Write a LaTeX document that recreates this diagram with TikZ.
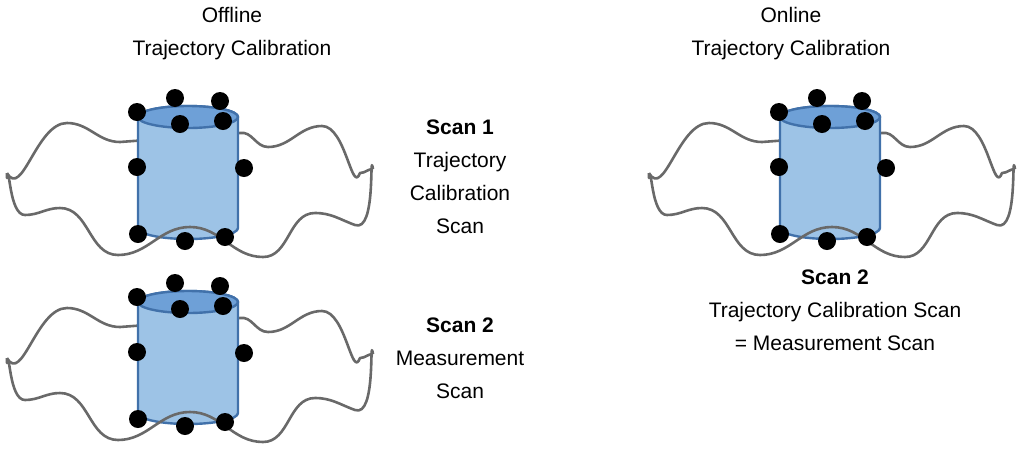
\documentclass[tikz,border=0pt]{standalone}
\usepackage{fontspec}
\setmainfont{Liberation Sans}
\definecolor{cylf}{RGB}{157,195,230}
\definecolor{cyltop}{RGB}{110,160,215}
\definecolor{cyle}{RGB}{65,113,170}
\definecolor{wave}{RGB}{105,105,105}
\begin{document}
\begin{tikzpicture}[x=1pt,y=-1pt,
  wv/.style={draw=wave,line width=2.6pt,line join=round},
  cyl/.style={draw=cyle,line width=2.4pt,fill=cylf},
  dot/.style={circle,fill=black,minimum size=18pt,inner sep=0pt},
  lbl/.style={align=center,font=\fontsize{21}{33}\selectfont}]
\useasboundingbox (0,0) rectangle (1025,448);
\newcommand{\grp}[3]{%
\begin{scope}[shift={(#1,#2)}]
\draw[wv] (7,173) to[out=-60,in=180] (67,123) to[out=0,in=180] (120,142) -- (240,133)
  to[out=10,in=180] (268,147) to[out=0,in=180] (322,126) to[out=0,in=-110] (360,173) to[out=0,in=180] (373,169);
\draw[cyl] (138,117) -- (138,228) arc[start angle=180,end angle=0,x radius=50,y radius=11] -- (238,117) arc[start angle=0,end angle=-180,x radius=50,y radius=11] -- cycle;
\draw[cyle,line width=2.4pt,fill=cyltop] (188,117) ellipse[x radius=50,y radius=11];
\draw[wv] (373,169) to[out=100,in=-20] (355,225) to[out=160,in=0] (315,213) to[out=180,in=0] (263,257)
  to[out=180,in=0] (190,227) to[out=180,in=0] (118,255) to[out=180,in=0] (60,208) to[out=180,in=0] (25,215) to[out=180,in=80] (7,178) -- (7,173);
\foreach \p/\q [count=\i] in {137/112,175/98,220/101,180/124,223/121,137/167,244/168,138/234,185/241,225/237}
  \node[dot] (d#3\i) at (\p,\q) {};
\end{scope}}
\grp{0}{0}{a}
\grp{0}{185}{b}
\grp{642}{0}{c}
\node[lbl] (t1) at (232,34) {Offline\\Trajectory Calibration};
\node[lbl] (t2) at (791,34) {Online\\Trajectory Calibration};
\node[lbl] (s1) at (460,177) {\textbf{Scan 1}\\Trajectory\\Calibration\\Scan};
\node[lbl] (s2) at (460,358) {\textbf{Scan 2}\\Measurement\\Scan};
\node[lbl] (s3) at (835,310) {\textbf{Scan 2}\\Trajectory Calibration Scan\\= Measurement Scan};
\end{tikzpicture}
\end{document}
